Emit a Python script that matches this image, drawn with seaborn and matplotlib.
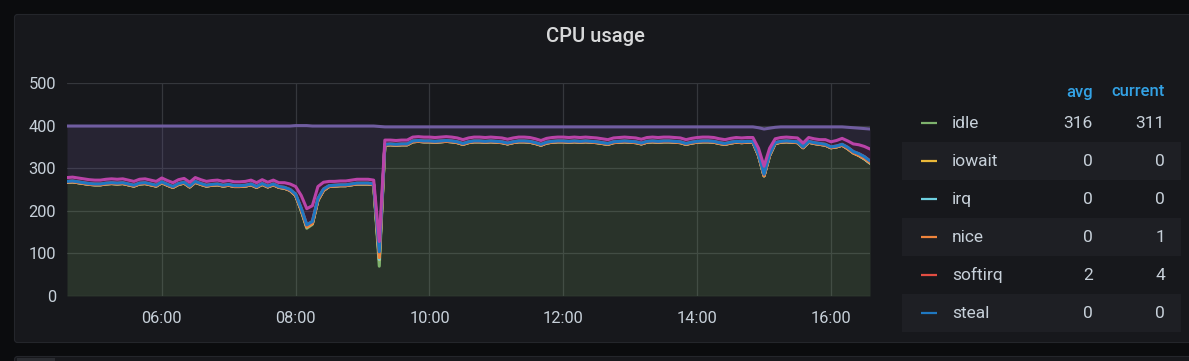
import numpy as np
import pandas as pd
import matplotlib
matplotlib.use("Agg")
import matplotlib.pyplot as plt
import matplotlib.dates as mdates
from matplotlib.patches import Rectangle, FancyBboxPatch
import seaborn as sns

# ---------------- data (5-minute samples, 04:35 -> 16:35) ----------------
start_time = "2021-03-01 04:35"
step = "5min"

idle = [
    267, 268, 266, 264, 262, 261, 261, 263, 264, 263,
    264, 261, 258, 263, 264, 261, 258, 266, 260, 255,
    262, 265, 256, 267, 262, 258, 260, 261, 258, 260,
    257, 257, 258, 261, 255, 262, 256, 261, 255, 253,
    248, 236, 200, 159, 168, 225, 248, 257, 258, 259,
    259, 261, 263, 263, 263, 261, 70, 354, 355, 354,
    355, 355, 362, 363, 362, 362, 361, 362, 363, 362,
    360, 356, 360, 362, 362, 361, 362, 361, 360, 357,
    360, 362, 362, 361, 358, 354, 359, 361, 362, 362,
    361, 362, 361, 362, 361, 360, 358, 356, 360, 361,
    362, 361, 360, 357, 361, 362, 361, 362, 362, 361,
    360, 356, 359, 361, 362, 362, 361, 358, 356, 359,
    361, 360, 361, 361, 330, 282, 330, 358, 361, 362,
    361, 360, 348, 361, 358, 356, 354, 348, 350, 354,
    346, 336, 330, 322, 312,
]
iowait = [
    0, 0, 0, 0, 0, 0, 0, 0, 0, 0, 0, 0, 0, 0, 0, 0, 0, 0, 0, 0,
    0, 0, 0, 0, 0, 0, 0, 0, 0, 0, 0, 0, 0, 0, 0, 0, 0, 0, 0, 0,
    0, 0, 2, 3, 2, 0, 0, 0, 0, 0, 0, 0, 0, 0, 0, 0, 15, 0, 0, 0,
    0, 0, 0, 0, 0, 0, 0, 0, 0, 0, 0, 0, 0, 0, 0, 0, 0, 0, 0, 0,
    0, 0, 0, 0, 0, 0, 0, 0, 0, 0, 0, 0, 0, 0, 0, 0, 0, 0, 0, 0,
    0, 0, 0, 0, 0, 0, 0, 0, 0, 0, 0, 0, 0, 0, 0, 0, 0, 0, 0, 0,
    0, 0, 0, 0, 0, 0, 0, 0, 0, 0, 0, 0, 0, 0, 0, 0, 0, 0, 0, 0,
    0, 0, 0, 0, 0,
]
irq = [
    0, 0, 0, 0, 0, 0, 0, 0, 0, 0, 0, 0, 0, 0, 0, 0, 0, 0, 0, 0,
    0, 0, 0, 0, 0, 0, 0, 0, 0, 0, 0, 0, 0, 0, 0, 0, 0, 0, 0, 0,
    0, 0, 0, 0, 0, 0, 0, 0, 0, 0, 0, 0, 0, 0, 0, 0, 1, 0, 0, 0,
    0, 0, 0, 0, 0, 0, 0, 0, 0, 0, 0, 0, 0, 0, 0, 0, 0, 0, 0, 0,
    0, 0, 0, 0, 0, 0, 0, 0, 0, 0, 0, 0, 0, 0, 0, 0, 0, 0, 0, 0,
    0, 0, 0, 0, 0, 0, 0, 0, 0, 0, 0, 0, 0, 0, 0, 0, 0, 0, 0, 0,
    0, 0, 0, 0, 0, 0, 0, 0, 0, 0, 0, 0, 0, 0, 0, 0, 0, 0, 0, 0,
    0, 0, 0, 0, 0,
]
nice = [
    0, 0, 0, 0, 0, 0, 0, 0, 0, 0, 0, 0, 0, 0, 0, 0, 0, 0, 0, 0,
    0, 0, 0, 0, 0, 0, 0, 0, 0, 0, 0, 0, 0, 0, 0, 0, 0, 0, 0, 0,
    0, 0, 0, 0, 0, 0, 0, 0, 0, 0, 0, 0, 0, 0, 0, 0, 4, 0, 0, 0,
    0, 0, 0, 0, 0, 0, 0, 0, 0, 0, 0, 0, 0, 0, 0, 0, 0, 0, 0, 0,
    0, 0, 0, 0, 0, 0, 0, 0, 0, 0, 0, 0, 0, 0, 0, 0, 0, 0, 0, 0,
    0, 0, 0, 0, 0, 0, 0, 0, 0, 0, 0, 0, 0, 0, 0, 0, 0, 0, 0, 0,
    0, 0, 0, 0, 0, 0, 0, 0, 0, 0, 0, 0, 0, 0, 0, 0, 0, 0, 0, 0,
    0, 0, 0, 1, 1,
]
softirq = [
    2, 2, 2, 2, 2, 2, 2, 2, 2, 2, 2, 2, 2, 2, 2, 2, 2, 2, 2, 2,
    2, 2, 2, 2, 2, 2, 2, 2, 2, 2, 2, 2, 2, 2, 2, 2, 2, 2, 2, 2,
    2, 3, 4, 5, 5, 4, 3, 2, 2, 2, 2, 2, 2, 2, 2, 2, 14, 2, 2, 2,
    2, 2, 2, 2, 2, 2, 2, 2, 2, 2, 2, 2, 2, 2, 2, 2, 2, 2, 2, 2,
    2, 2, 2, 2, 2, 2, 2, 2, 2, 2, 2, 2, 2, 2, 2, 2, 2, 2, 2, 2,
    2, 2, 2, 2, 2, 2, 2, 2, 2, 2, 2, 2, 2, 2, 2, 2, 2, 2, 2, 2,
    2, 2, 2, 2, 3, 4, 3, 2, 2, 2, 2, 2, 2, 2, 2, 2, 2, 2, 2, 2,
    3, 3, 4, 4, 4,
]
steal = [
    0, 0, 0, 0, 0, 0, 0, 0, 0, 0, 0, 0, 0, 0, 0, 0, 0, 0, 0, 0,
    0, 0, 0, 0, 0, 0, 0, 0, 0, 0, 0, 0, 0, 0, 0, 0, 0, 0, 0, 0,
    0, 0, 0, 0, 0, 0, 0, 0, 0, 0, 0, 0, 0, 0, 0, 0, 0, 0, 0, 0,
    0, 0, 0, 0, 0, 0, 0, 0, 0, 0, 0, 0, 0, 0, 0, 0, 0, 0, 0, 0,
    0, 0, 0, 0, 0, 0, 0, 0, 0, 0, 0, 0, 0, 0, 0, 0, 0, 0, 0, 0,
    0, 0, 0, 0, 0, 0, 0, 0, 0, 0, 0, 0, 0, 0, 0, 0, 0, 0, 0, 0,
    0, 0, 0, 0, 0, 0, 0, 0, 0, 0, 0, 0, 0, 0, 0, 0, 0, 0, 0, 0,
    0, 0, 0, 0, 0,
]
system = [
    9, 9, 9, 9, 9, 9, 9, 9, 9, 9, 9, 9, 9, 9, 9, 9, 9, 9, 9, 9,
    9, 9, 9, 9, 9, 9, 9, 9, 9, 9, 9, 9, 9, 9, 9, 9, 9, 9, 9, 11,
    13, 18, 30, 38, 37, 28, 16, 10, 9, 9, 9, 9, 9, 9, 9, 9, 24, 10, 9, 9,
    9, 9, 9, 9, 9, 9, 9, 9, 9, 9, 9, 9, 9, 9, 9, 9, 9, 9, 9, 9,
    9, 9, 9, 9, 9, 9, 9, 9, 9, 9, 9, 9, 9, 9, 9, 9, 9, 9, 9, 9,
    9, 9, 9, 9, 9, 9, 9, 9, 9, 9, 9, 9, 9, 9, 9, 9, 9, 9, 9, 9,
    9, 9, 9, 9, 14, 19, 14, 9, 9, 9, 9, 9, 9, 9, 9, 9, 11, 12, 13, 14,
    15, 18, 21, 24, 28,
]
user = [
    121, 120, 122, 124, 126, 127, 127, 125, 124, 125,
    124, 127, 130, 125, 124, 127, 130, 122, 128, 133,
    126, 123, 132, 121, 126, 130, 128, 127, 130, 128,
    131, 131, 130, 127, 133, 126, 132, 127, 133, 133,
    136, 143, 164, 195, 187, 142, 132, 130, 130, 129,
    129, 127, 125, 125, 125, 127, 270, 31, 31, 32,
    31, 31, 24, 23, 24, 24, 25, 24, 23, 24,
    26, 30, 26, 24, 24, 25, 24, 25, 26, 29,
    26, 24, 24, 25, 28, 32, 27, 25, 24, 24,
    25, 24, 25, 24, 25, 26, 28, 30, 26, 25,
    24, 25, 26, 29, 25, 24, 25, 24, 24, 25,
    26, 30, 27, 25, 24, 24, 25, 28, 30, 27,
    25, 26, 25, 25, 48, 87, 47, 27, 25, 24,
    25, 26, 38, 25, 28, 30, 30, 35, 32, 27,
    32, 38, 39, 42, 47,
]

series_names = ["idle", "iowait", "irq", "nice", "softirq", "steal", "system", "user"]
series_colors = ["#7EB26D", "#EAB839", "#6ED0E0", "#EF843C", "#E24D42", "#1F78C1", "#BA43A9", "#705DA0"]
legend_rows = ["idle", "iowait", "irq", "nice", "softirq", "steal"]
legend_avg = [316, 0, 0, 0, 2, 0]
legend_current = [311, 0, 0, 1, 4, 0]
y_ticks = [0, 100, 200, 300, 400, 500]
title = "CPU usage"

# ---------------- styling ----------------
sns.set_theme(style="dark")
plt.rcParams["font.family"] = ["Roboto", "DejaVu Sans"]

W, H = 1189, 361
OUTER = "#0b0c0e"
PANEL = "#17181c"
TEXT = "#c7d0d9"

fig = plt.figure(figsize=(W / 100, H / 100), dpi=100)
fig.patch.set_facecolor(OUTER)

bg = fig.add_axes([0, 0, 1, 1], zorder=0)
bg.set_xlim(0, W)
bg.set_ylim(H, 0)
bg.axis("off")
bg.add_patch(FancyBboxPatch((14.5, 14.5), W + 10, 328, boxstyle="round,pad=0,rounding_size=3",
                            fc=PANEL, ec="#24262b", lw=0.8))
bg.add_patch(FancyBboxPatch((14.5, 356.5), W + 10, 30, boxstyle="round,pad=0,rounding_size=3",
                            fc=PANEL, ec="#24262b", lw=0.8))
bg.add_patch(Rectangle((17, 357.5), 38, 6, fc="#2a2c31", ec="none"))

bg.text(595, 37, title, ha="center", va="center", color="#d8d9da", fontsize=14.5, fontweight="medium")

# ---------------- plot ----------------
ax = fig.add_axes([67 / W, 1 - 296 / H, (870 - 67) / W, (296 - 83) / H], zorder=1)
ax.set_facecolor("none")

times = pd.date_range(start_time, periods=len(idle), freq=step)
vals = np.array([idle, iowait, irq, nice, softirq, steal, system, user], dtype=float)
cum = vals.cumsum(axis=0)

for k, (name, col) in enumerate(zip(series_names, series_colors)):
    lower = cum[k - 1] if k > 0 else np.zeros(len(times))
    ax.fill_between(times, lower, cum[k], color=col, alpha=0.18, lw=0, zorder=2)

df = pd.DataFrame({
    "time": np.tile(times, len(series_names)),
    "series": np.repeat(series_names, len(times)),
    "value": cum.ravel(),
})
sns.lineplot(data=df, x="time", y="value", hue="series", hue_order=series_names,
             palette=dict(zip(series_names, series_colors)), linewidth=2.2,
             legend=False, ax=ax, zorder=3)

ax.set_xlim(times[0], times[-1])
ax.set_ylim(0, 500)
ax.set_yticks(y_ticks)
ax.xaxis.set_major_locator(mdates.HourLocator(byhour=range(0, 24, 2)))
ax.xaxis.set_major_formatter(mdates.DateFormatter("%H:%M"))
ax.set_xlabel("")
ax.set_ylabel("")
ax.grid(True, color="#35373c", lw=0.9)
ax.set_axisbelow(True)
for s in ax.spines.values():
    s.set_visible(False)
ax.tick_params(axis="both", length=0, colors=TEXT, labelsize=11.8)
ax.tick_params(axis="x", pad=11)
ax.tick_params(axis="y", pad=8)

# ---------------- legend table ----------------
bg.text(1093, 92, "avg", ha="right", va="center", color="#33a2e5", fontsize=12, fontweight="medium")
bg.text(1165, 92, "current", ha="right", va="center", color="#33a2e5", fontsize=12, fontweight="medium")
color_of = dict(zip(series_names, series_colors))
for r, (name, a, c) in enumerate(zip(legend_rows, legend_avg, legend_current)):
    y = 123.3 + 38 * r
    if r % 2 == 1:
        bg.add_patch(Rectangle((902, y - 19), 279, 38, fc="#1e1f24", ec="none"))
    bg.plot([921, 937], [y, y], color=color_of[name], lw=1.6, solid_capstyle="butt")
    bg.text(952, y, name, ha="left", va="center", color=TEXT, fontsize=12.5)
    bg.text(1093, y, str(a), ha="right", va="center", color=TEXT, fontsize=12.5)
    bg.text(1165, y, str(c), ha="right", va="center", color=TEXT, fontsize=12.5)

fig.savefig("out.png", dpi=100, facecolor=OUTER)
